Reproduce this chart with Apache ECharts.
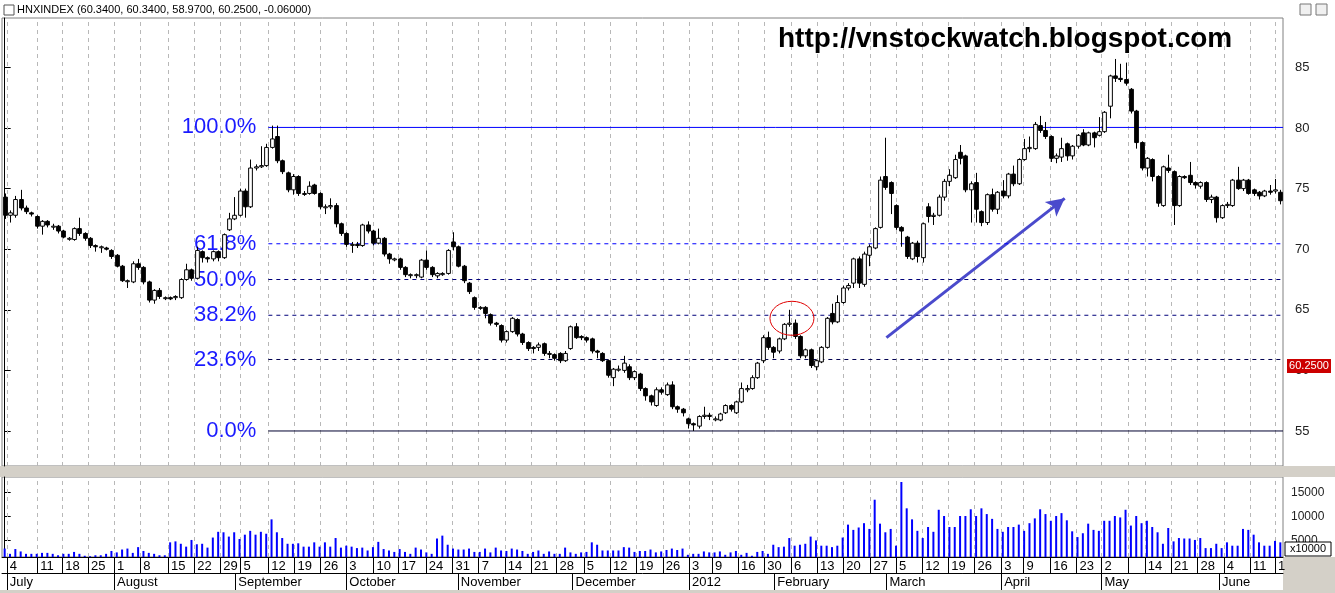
<!DOCTYPE html>
<html><head><meta charset="utf-8">
<script src="https://cdn.jsdelivr.net/npm/echarts@6/dist/echarts.min.js"></script>
<style>html,body{margin:0;padding:0;background:#fff}#c{width:1335px;height:593px}</style>
</head><body><div id="c"></div>
<script>
// [open, close, high, low]
const candles = [
[74.3,72.8,74.6,72.5],[72.8,73.0,73.2,72.2],[72.8,74.1,74.4,72.6],[74.1,73.4,74.9,73.2],[73.4,73.1,73.6,72.9],
[73.0,72.9,73.1,72.7],[72.7,71.9,72.8,71.7],[71.9,72.3,72.4,71.2],[72.3,72.0,72.4,71.8],[71.9,71.9,72.1,71.6],
[71.9,71.5,72.0,71.3],[71.5,71.0,71.6,70.9],[70.9,70.9,71.0,70.7],[70.8,71.7,71.8,70.7],[71.7,71.3,72.6,71.1],
[71.3,70.9,71.4,70.7],[70.9,70.3,71.0,70.1],[70.3,70.2,70.4,69.8],[70.2,70.2,70.3,69.7],[70.1,70.0,70.2,69.9],
[69.9,69.4,70.0,69.2],[69.5,68.6,69.6,68.5],[68.6,67.4,68.7,67.3],[67.4,67.4,67.5,66.8],[67.3,68.8,69.0,67.2],
[68.8,68.5,69.2,68.3],[68.5,67.3,68.6,67.1],[67.3,65.8,67.4,65.6],[65.8,66.6,66.7,65.5],[66.6,66.1,66.8,65.9],
[66.0,66.0,66.1,65.8],[66.0,65.9,66.1,65.8],[66.0,66.1,66.2,65.8],[66.0,67.5,67.6,65.9],[67.5,68.3,68.8,67.4],
[68.3,67.6,68.4,67.4],[67.6,69.9,70.2,67.5],[69.8,69.3,69.9,68.9],[69.3,69.2,69.4,68.9],[69.2,69.8,69.9,69.0],
[69.8,69.3,69.9,69.0],[69.3,71.2,71.3,69.2],[71.6,72.5,73.0,71.5],[72.5,72.8,74.3,72.4],[72.8,74.8,75.0,72.7],
[74.8,73.5,75.0,72.6],[73.5,76.7,77.4,73.4],[76.7,76.8,77.0,76.5],[76.8,76.9,78.5,76.7],[76.9,78.4,78.7,76.8],
[78.4,79.1,80.2,78.3],[79.3,77.3,80.2,77.1],[77.3,76.4,77.4,76.2],[76.3,74.9,76.4,74.7],[74.9,76.0,76.2,74.5],
[76.0,74.6,76.1,74.4],[74.6,74.6,74.8,74.4],[74.6,75.2,75.6,74.5],[75.3,74.6,75.4,74.5],[74.6,73.5,74.7,73.3],
[73.5,73.5,73.7,72.9],[73.5,73.6,74.2,73.3],[73.6,72.1,73.8,71.8],[72.1,71.3,72.2,71.1],[71.3,70.4,71.4,70.2],
[70.4,70.4,70.6,69.7],[70.4,70.3,70.6,70.1],[70.3,72.0,72.1,70.2],[72.0,71.5,72.3,71.3],[71.5,70.5,71.6,70.3],
[70.5,70.9,71.7,70.4],[70.9,69.6,71.0,69.4],[69.6,69.2,69.7,68.8],[69.2,69.2,69.3,69.0],[69.2,68.5,69.3,68.3],
[68.5,67.9,68.6,67.7],[67.9,67.9,68.0,67.6],[67.9,67.9,68.0,67.6],[67.7,69.1,69.2,67.6],[69.1,68.5,69.9,68.3],
[68.5,67.9,68.6,67.7],[67.8,68.0,68.1,67.6],[67.9,68.0,68.1,67.8],[68.0,69.9,70.0,67.9],[70.6,70.2,71.4,69.9],
[70.2,68.6,70.3,68.5],[68.6,67.4,68.7,67.2],[67.2,66.5,67.3,66.3],[66.0,65.2,66.1,65.0],[65.2,65.2,65.3,65.0],
[65.2,64.7,65.3,64.3],[64.6,63.9,64.7,63.7],[63.9,63.8,64.0,63.6],[63.7,62.5,63.8,62.3],[62.5,63.2,63.3,62.3],
[63.2,64.3,64.4,63.1],[64.2,63.0,64.3,62.8],[63.0,62.3,63.1,62.1],[62.3,61.8,62.4,61.6],[61.9,61.8,62.0,61.4],
[61.9,62.1,62.3,61.6],[62.2,61.4,62.3,61.2],[61.4,61.4,61.6,61.0],[61.3,61.0,61.4,60.8],[61.4,60.8,61.5,60.6],
[60.8,61.4,61.6,60.7],[61.8,63.6,63.7,61.7],[63.6,62.7,63.9,62.6],[62.8,62.7,62.9,62.5],[62.7,62.5,62.8,62.3],
[62.6,61.6,62.7,61.4],[61.6,61.5,61.7,61.0],[61.4,60.8,61.5,60.7],[60.8,59.6,60.9,59.4],[59.4,60.1,60.2,58.7],
[60.1,60.1,60.4,59.9],[60.0,60.6,61.2,59.8],[60.3,59.4,60.5,59.2],[59.4,59.9,60.0,59.2],[59.7,58.5,59.8,58.3],
[58.5,57.9,58.6,57.5],[57.9,57.4,58.0,57.1],[57.1,58.4,58.6,57.0],[58.4,58.2,58.6,58.0],[58.0,58.8,59.0,57.9],
[58.8,57.0,59.1,56.8],[57.0,56.8,57.1,56.5],[56.8,56.5,56.9,56.2],[56.0,55.6,56.1,55.2],[55.6,55.5,55.7,55.0],
[55.4,56.2,56.3,55.2],[56.2,56.3,57.0,56.0],[56.3,56.2,56.5,55.9],[56.0,56.0,56.2,55.8],[55.9,56.4,56.5,55.8],
[56.5,57.1,57.2,56.4],[57.1,56.8,57.2,56.6],[56.5,57.4,57.5,56.4],[57.4,58.5,59.0,57.3],[58.4,58.5,58.8,58.2],
[58.5,59.4,59.6,58.4],[59.4,60.6,60.7,59.3],[60.8,62.7,62.9,60.6],[62.7,61.9,63.2,61.7],[61.9,61.5,62.0,61.0],
[61.6,62.6,62.7,61.4],[62.6,63.8,63.9,62.5],[63.8,63.9,65.0,63.6],[63.9,62.8,64.2,62.6],[62.8,61.2,62.9,61.0],
[61.2,61.7,61.8,61.0],[61.7,60.4,61.8,60.2],[60.3,60.8,60.9,60.0],[60.7,61.9,62.0,60.6],[61.9,64.3,64.4,61.8],
[64.7,64.0,65.5,63.8],[64.0,65.6,66.2,63.9],[65.6,66.8,67.0,65.5],[66.8,67.0,67.2,66.6],[67.2,69.2,69.3,66.8],
[69.2,67.2,69.4,66.8],[67.1,69.6,69.8,66.9],[69.5,70.2,70.4,68.6],[70.1,71.7,71.8,70.0],[71.8,75.7,76.0,71.7],
[76.0,75.1,79.2,74.9],[75.5,74.6,75.6,72.9],[73.6,71.8,73.7,71.6],[71.8,71.5,71.9,70.2],[71.0,69.4,71.1,69.2],
[69.2,70.5,70.6,69.1],[70.5,69.4,70.7,68.9],[69.3,72.1,72.2,68.9],[73.5,72.7,73.8,72.2],[72.7,72.8,73.0,72.0],
[72.8,74.3,74.5,72.7],[74.3,75.6,75.8,74.0],[75.6,76.1,76.6,75.2],[75.9,77.4,77.8,75.8],[78.0,77.5,78.6,77.0],
[77.7,74.9,77.8,74.7],[74.9,75.4,75.6,72.2],[75.5,73.3,76.3,72.2],[73.1,72.2,73.2,71.9],[72.2,74.5,74.6,72.0],
[74.5,73.3,75.0,73.1],[73.3,74.7,74.8,72.9],[74.8,74.4,75.7,74.2],[74.4,76.2,76.3,74.2],[76.2,75.4,76.9,75.2],
[75.4,77.4,77.5,75.3],[77.4,78.3,79.1,77.3],[78.3,78.4,79.3,78.0],[78.3,80.3,80.5,78.2],[80.2,79.8,81.0,79.6],
[79.8,79.3,80.5,79.1],[79.3,77.5,79.4,77.2],[77.5,77.7,77.9,77.1],[77.6,78.3,79.2,77.2],[78.7,77.7,78.8,77.3],
[77.7,78.5,78.6,77.4],[78.5,79.4,79.5,78.3],[79.6,78.6,79.9,78.5],[78.6,79.6,79.7,78.5],[79.6,79.2,79.7,78.4],
[79.4,79.7,80.9,79.3],[79.7,81.3,81.4,79.6],[81.8,84.3,84.4,80.8],[84.3,84.1,85.7,83.8],[84.1,84.0,85.3,83.8],
[84.0,83.7,85.4,83.5],[83.2,81.4,83.3,81.2],[81.4,78.8,81.5,78.3],[78.8,76.7,78.9,76.5],[76.7,77.5,77.6,76.0],
[77.4,76.0,77.5,75.6],[76.0,73.8,76.1,73.5],[73.6,76.8,76.9,73.5],[76.7,76.5,77.8,76.3],[76.4,73.6,76.5,72.0],
[73.6,76.0,76.1,73.5],[76.0,75.9,76.1,75.8],[76.1,75.5,77.2,75.3],[75.5,75.3,75.6,75.0],[75.2,75.5,75.6,75.0],
[75.5,74.1,75.6,73.9],[74.1,74.3,74.5,73.8],[74.3,72.6,74.4,72.2],[72.6,73.6,73.7,72.5],[73.6,73.7,73.9,73.4],
[73.6,75.7,75.8,73.5],[75.7,75.0,76.8,74.9],[75.0,75.7,75.8,74.8],[75.7,74.6,75.8,74.5],[74.9,74.6,75.0,74.4],
[74.7,74.4,74.8,74.1],[74.4,74.8,74.9,74.3],[74.8,74.7,75.3,74.5],[74.8,74.9,75.8,74.6],[74.7,74.0,74.9,73.7]
];
const volumes = [
3300,2200,3200,2700,2200,2200,2200,2400,2400,2200,1900,2200,2200,2600,2200,
1800,1700,1900,1900,2200,
2800,2500,3100,3300,2400,3600,2800,2400,2200,1900,
1900,4600,4800,4300,3700,5100,4200,4300,3500,5600,
6800,6700,5800,6700,5300,6200,7000,6200,6800,6400,
9400,6700,5500,4300,4300,4400,3700,3700,4600,3700,
4600,3700,5500,3500,3900,3700,3400,3500,2900,3600,
4700,3200,2900,2600,3200,2600,2200,3500,3100,2500,
2200,5400,6000,4100,3300,3100,3100,3300,2600,2600,
3300,2500,3500,2900,2800,3300,3100,2800,2200,2600,
2900,2200,2700,2200,2200,3500,2500,2200,2500,2600,
4600,4100,2900,2900,2900,2900,3600,3500,2600,2800,
2800,3100,2500,
2700,3000,3300,3000,3300,
2000,2200,2200,2700,2500,2500,2700,2000,2500,2800,2000,2400,1800,2600,2800,2200,
4100,3600,3700,5500,
3900,4100,4300,5800,5000,
3900,3900,3600,3900,5600,
8300,7200,7700,8600,
7400,13500,8500,6700,7400,3900,
17200,11700,9400,7000,5500,
7800,6800,11400,10100,
7800,7800,10100,10100,11500,
10100,11700,10500,9500,7400,
6800,7800,7800,8300,7000,
8600,9600,11500,10500,9100,
10100,10700,9200,6900,5700,6500,
8500,7200,7000,
9100,9100,10100,9800,11400,
8100,10100,8600,9100,7800,
6700,4300,7600,
4800,5500,5400,5400,5100,5500,
3400,3400,4300,3400,
4600,3900,3900,7400,7200,6200,
4600,3900,3900,4900,4600
];
const weekSep = [0.4,6.1,10.8,15.6,20.5,25.4,30.6,35.5,40.4,44.2,49.4,54.3,59.2,64.0,69.1,73.8,78.9,83.9,88.8,93.7,98.6,103.4,108.5,113.4,118.3,123.3,128.2,132.5,137.4,142.3,147.3,152.2,157.1,162.2,167.0,171.9,176.8,181.7,186.7,190.9,195.9,200.8,205.5,210.6,213.6,218.5,223.5,228.4,233.3,238.0];
const weekTxt = ['4','11','18','25','1','8','15','22','29','5','12','19','26','3','10','17','24','31','7','14','21','28','5','12','19','26','3','9','16','30','6','13','20','27','5','12','19','26','3','9','16','23','2','','14','21','28','4','11','1'];
const monthSep = [0.4,20.5,43.2,64.0,84.9,106.4,128.2,144.2,165.2,186.7,205.5,227.5];
const monthTxt = ['July','August','September','October','November','December','2012','February','March','April','May','June'];
const priceTicks = [55,60,65,70,75,80,85];
const volTicks = [5000,10000,15000];
const fibLabels = ['100.0%','61.8%','50.0%','38.2%','23.6%','0.0%'];
const fibValues = [80.05,70.45,67.5,64.55,60.9,55.0];
const fibStart = 49.4;
const N = candles.length;

const chart = echarts.init(document.getElementById('c'));
const FONT = 'Liberation Sans';
const candleData = candles.map((d,i)=>[i,d[0],d[1],d[2],d[3]]);
const fibColors = ['#0000ff','#0000ff','#00007a','#00007a','#000050','#000030'];
const fibTypes = ['solid',[4,4],[4,4],[4,4],[4,4],'solid'];
const sepStyle = {lineStyle:{type:[4,4],color:'#b8b8b8',width:1},label:{show:false}};

const fibSeries = fibValues.map((v,k)=>({
 type:'line',xAxisIndex:0,yAxisIndex:0,z:3,silent:true,
 symbol:'circle',symbolSize:0.1,showSymbol:true,color:fibColors[k],
 itemStyle:{color:fibColors[k]},
 lineStyle:{width:1,color:fibColors[k],type:fibTypes[k]},
 data:[{value:[fibStart,v],label:{show:true,position:'left',distance:12,formatter:fibLabels[k],
        color:'#1a1aff',fontSize:22,fontFamily:FONT}},{value:[N-0.5,v],label:{show:false}}],
 labelLayout:{hideOverlap:false}
}));

chart.setOption({
 animation:false,
 backgroundColor:'#ffffff',
 grid:[
  {left:2,right:52,top:18,height:448,show:true,borderColor:'#808080',borderWidth:1},
  {left:2,right:52,top:477,height:80,show:true,borderColor:'#808080',borderWidth:1}
 ],
 xAxis:[
  {gridIndex:0,type:'value',min:-0.5,max:N-0.5,show:false},
  {gridIndex:1,type:'value',min:-0.5,max:N-0.5,position:'bottom',
   axisLine:{show:true,lineStyle:{color:'#000'}},
   axisTick:{show:true,customValues:weekSep,length:16,lineStyle:{color:'#000'}},
   axisLabel:{customValues:weekSep,margin:3,align:'left',padding:[0,0,0,3],fontFamily:FONT,fontSize:13,color:'#000',
     formatter:v=>weekTxt[weekSep.indexOf(v)]||''},
   splitLine:{show:false}},
  {gridIndex:1,type:'value',min:-0.5,max:N-0.5,position:'bottom',offset:16,
   axisLine:{show:true,lineStyle:{color:'#000'}},
   axisTick:{show:true,customValues:monthSep,length:17,lineStyle:{color:'#000'}},
   axisLabel:{customValues:monthSep,margin:3,align:'left',padding:[0,0,0,3],fontFamily:FONT,fontSize:13,color:'#000',
     formatter:v=>monthTxt[monthSep.indexOf(v)]||''},
   splitLine:{show:false}}
 ],
 yAxis:[
  {gridIndex:0,type:'value',position:'right',min:52.11,max:89.08,
   axisLine:{show:true,lineStyle:{color:'#000'}},
   axisTick:{show:true,customValues:priceTicks,length:6,lineStyle:{color:'#000'}},
   axisLabel:{customValues:priceTicks,margin:12,fontFamily:FONT,fontSize:13,color:'#222'},
   splitLine:{show:false}},
  {gridIndex:1,type:'value',position:'right',min:1540,max:18240,
   axisLine:{show:true,lineStyle:{color:'#000'}},
   axisTick:{show:true,customValues:volTicks,length:6,lineStyle:{color:'#000'}},
   axisLabel:{customValues:volTicks,margin:8,fontFamily:FONT,fontSize:12,color:'#222',formatter:v=>String(v)},
   splitLine:{show:false}}
 ],
 series:[
  {type:'custom',xAxisIndex:0,yAxisIndex:0,data:candleData,z:5,
   encode:{x:0,y:[1,2,3,4]},
   renderItem:(p,api)=>{
    const i=api.value(0),o=api.value(1),c=api.value(2),h=api.value(3),l=api.value(4);
    const po=api.coord([i,o]),pc=api.coord([i,c]),ph=api.coord([i,h]),pl=api.coord([i,l]);
    const w=Math.max(3,api.size([1,0])[0]*0.7);
    const x=Math.round(po[0]);
    const top=Math.min(po[1],pc[1]),bh=Math.max(1,Math.abs(po[1]-pc[1]));
    const up=c>=o;
    return {type:'group',children:[
     {type:'line',shape:{x1:x+0.5,y1:ph[1],x2:x+0.5,y2:pl[1]},style:{stroke:'#000',lineWidth:1}},
     {type:'rect',shape:{x:x-w/2+0.5,y:top,width:w,height:bh},
      style:{fill:up?'#fff':'#000',stroke:'#000',lineWidth:1}}
    ]};
   },
   markLine:{silent:true,symbol:['none','none'],animation:false,z:1,
    data:[
     ...weekSep.map(v=>Object.assign({xAxis:v},sepStyle)),
     [{coord:[165.2,62.7],symbol:'none',lineStyle:{color:'#4a4acc',width:3,type:'solid'},label:{show:false}},
      {coord:[198.6,74.2],symbol:'arrow',symbolSize:[14,18],lineStyle:{color:'#4a4acc',width:3,type:'solid'}}]
    ]}
  },
  ...fibSeries,
  {type:'bar',xAxisIndex:1,yAxisIndex:1,data:volumes.slice(0,N).map((v,i)=>[i,v]),barWidth:2,
   itemStyle:{color:'#0000ff'},z:5,
   markLine:{silent:true,symbol:['none','none'],animation:false,
     data:weekSep.map(v=>Object.assign({xAxis:v},sepStyle))}}
 ]
});

const cc = chart.convertToPixel({gridIndex:0},[147.5,64.3]);
const tag = chart.convertToPixel({gridIndex:0},[0,60.36]);
chart.setOption({graphic:[
 {type:'rect',shape:{x:0,y:466,width:1335,height:11},style:{fill:'#d4d0c8'},z:0},
 {type:'rect',shape:{x:1283,y:557,width:52,height:36},style:{fill:'#d4d0c8'},z:0},
 {type:'rect',shape:{x:0,y:590,width:1335,height:3},style:{fill:'#d4d0c8'},z:0},
 {type:'rect',shape:{x:4,y:5,width:10,height:10},style:{fill:'#fff',stroke:'#555',lineWidth:1},z:20},
 {type:'text',left:17,top:4,style:{text:'HNXINDEX (60.3400, 60.3400, 58.9700, 60.2500, -0.06000)',font:'11px '+FONT,fill:'#000'},z:20},
 {type:'rect',shape:{x:1300,y:4,width:11,height:11},style:{fill:'#f0f0f0',stroke:'#777'},z:20},
 {type:'rect',shape:{x:1316,y:4,width:11,height:11},style:{fill:'#f0f0f0',stroke:'#777'},z:20},
 {type:'text',left:778,top:25,style:{text:'http://vnstockwatch.blogspot.com',font:'bold 28px '+FONT,fill:'#000'},z:20},
 {type:'ellipse',shape:{cx:cc[0],cy:cc[1],rx:22,ry:17},style:{fill:'none',stroke:'#e00000',lineWidth:1},z:20},
 {type:'rect',shape:{x:1287,y:tag[1]-7,width:44,height:14},style:{fill:'#cc0000'},z:20},
 {type:'text',x:1309,y:tag[1],style:{text:'60.2500',font:'11px '+FONT,fill:'#fff',align:'center',verticalAlign:'middle'},z:21},
 {type:'rect',shape:{x:1285,y:542,width:46,height:14},style:{fill:'#fff',stroke:'#000'},z:20},
 {type:'text',x:1308,y:549,style:{text:'x10000',font:'11px '+FONT,fill:'#000',align:'center',verticalAlign:'middle'},z:21}
]});
</script></body></html>
